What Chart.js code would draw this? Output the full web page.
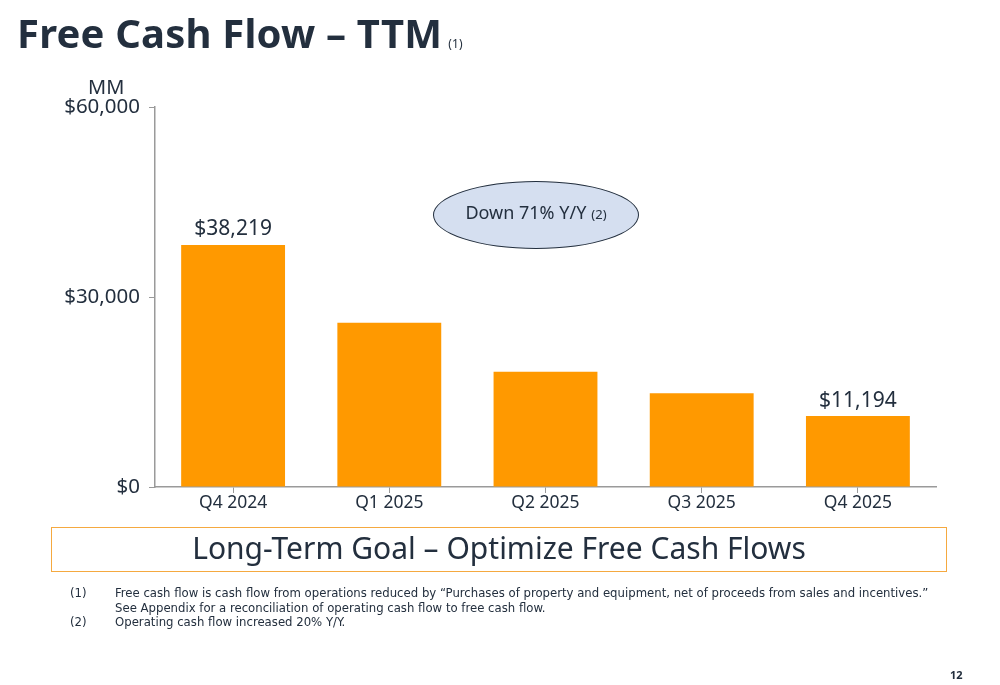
<!DOCTYPE html>
<html>
<head>
<meta charset="utf-8">
<script src="https://cdn.jsdelivr.net/npm/chart.js@4.4.1/dist/chart.umd.min.js"></script>
<style>
  html, body { margin:0; padding:0; background:#fff; }
  body { width:1000px; height:685px; position:relative; overflow:hidden; font-family:"Noto Sans", "Open Sans", sans-serif; color:#232f3e; }
  #wrap { position:absolute; left:0; top:0; width:1000px; height:685px; }
  .abs { position:absolute; white-space:nowrap; }
  #title { left:17px; top:5px; font-size:40px; font-weight:700; letter-spacing:0.2px; }
  #title small { font-size:12px; font-weight:400; margin-left:6px; }
  #mm { left:88px; top:73px; font-size:20px; }
  #oval { left:433px; top:181px; width:204px; height:66px; border:1.5px solid #232f3e; border-radius:50%; background:#d5dff0; display:flex; align-items:center; justify-content:center; font-size:18px; box-sizing:content-box; }
  #oval span.t { position:relative; top:-3px; }
  #oval small { font-size:13px; margin-left:5px; }
  #goal { left:51px; top:527px; width:894px; height:43px; border:1px solid #f5a940; display:flex; align-items:center; justify-content:center; font-size:30px; }
  #goal span { position:relative; top:-2px; }
  .fn { font-family:"Liberation Sans Narrow","DejaVu Sans Condensed","Noto Sans",sans-serif; font-size:13px; }
  #pg { left:950px; top:667px; font-size:11px; font-weight:700; }
</style>
</head>
<body>
<div id="wrap"><canvas id="c" width="1000" height="685"></canvas></div>
<div class="abs" id="title">Free Cash Flow – TTM<small>(1)</small></div>
<div class="abs" id="mm">MM</div>
<div class="abs" id="oval"><span class="t">Down 71% Y/Y<small>(2)</small></span></div>
<div class="abs" id="goal"><span>Long-Term Goal – Optimize Free Cash Flows</span></div>
<div class="abs fn" style="left:70px;top:585px;">(1)</div>
<div class="abs fn" style="left:115px;top:585px;">Free cash flow is cash flow from operations reduced by “Purchases of property and equipment, net of proceeds from sales and incentives.”</div>
<div class="abs fn" style="left:115px;top:600px;">See Appendix for a reconciliation of operating cash flow to free cash flow.</div>
<div class="abs fn" style="left:70px;top:614px;">(2)</div>
<div class="abs fn" style="left:115px;top:614px;">Operating cash flow increased 20% Y/Y.</div>
<div class="abs" id="pg">12</div>
<script>
const categories = ["Q4 2024", "Q1 2025", "Q2 2025", "Q3 2025", "Q4 2025"];
const fcfValues = [38219, 25920, 18184, 14788, 11194];
const valueLabels = ["$38,219", null, null, null, "$11,194"];
const yTicks = [0, 30000, 60000];

const textColor = "#232f3e";
const font = "'Noto Sans', 'Open Sans', sans-serif";

const labelPlugin = {
  id: "valueLabels",
  afterDatasetsDraw(chart) {
    const ctx = chart.ctx;
    const meta = chart.getDatasetMeta(0);
    ctx.save();
    ctx.fillStyle = textColor;
    ctx.font = "21px " + font;
    ctx.textAlign = "center";
    ctx.textBaseline = "bottom";
    meta.data.forEach((bar, i) => {
      if (valueLabels[i]) ctx.fillText(valueLabels[i], bar.x, bar.y - 5);
    });
    ctx.restore();
  }
};

new Chart(document.getElementById("c"), {
  type: "bar",
  data: {
    labels: categories,
    datasets: [{
      data: fcfValues,
      backgroundColor: "#ff9900",
      borderWidth: 0,
      categoryPercentage: 1,
      barPercentage: 0.665
    }]
  },
  options: {
    responsive: false,
    animation: false,
    events: [],
    layout: { padding: { left: 0, right: 64, top: 107, bottom: 0 } },
    plugins: { legend: { display: false }, tooltip: { enabled: false } },
    scales: {
      x: {
        grid: { display: true, offset: false, drawOnChartArea: false, drawTicks: true, tickLength: 6, color: "#9a9a9a" },
        border: { display: true, color: "#9a9a9a", width: 1.5 },
        ticks: { color: textColor, font: { family: font, size: 17.5 }, padding: 0 },
        afterFit(scale) { scale.height = 198; }
      },
      y: {
        min: 0, max: 60000,
        afterBuildTicks(scale) { scale.ticks = yTicks.map(v => ({ value: v })); },
        grid: { display: true, drawOnChartArea: false, drawTicks: true, tickLength: 6, color: "#9a9a9a" },
        border: { display: true, color: "#9a9a9a", width: 1.5 },
        ticks: {
          color: textColor, font: { family: font, size: 20.5 }, padding: 9,
          callback: v => "$" + v.toLocaleString("en-US")
        },
        afterFit(scale) { scale.width = 155; }
      }
    }
  },
  plugins: [labelPlugin]
});
</script>
</body>
</html>
